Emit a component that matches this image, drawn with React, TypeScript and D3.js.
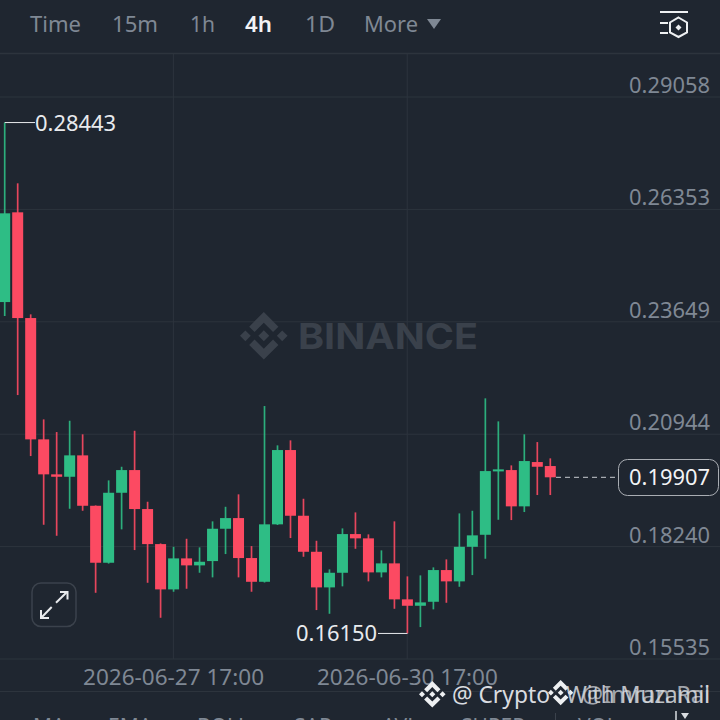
import React from "react";
import * as d3 from "d3";

const opens = [0.24124,0.26283,0.23739,0.20820,0.19978,0.19920,0.20435,0.19222,0.17851,0.19535,0.20081,0.19143,0.18300,0.17210,0.17956,0.17788,0.17891,0.18669,0.18926,0.17964,0.17393,0.18775,0.20563,0.18982,0.18115,0.17258,0.17610,0.18541,0.18438,0.17619,0.17836,0.16970,0.16816,0.16912,0.17675,0.17403,0.18235,0.18524,0.20049,0.20081,0.19208,0.20274,0.20178];
const closes = [0.26259,0.23739,0.20820,0.19978,0.19920,0.20435,0.19222,0.17851,0.19535,0.20081,0.19143,0.18300,0.17210,0.17956,0.17788,0.17875,0.18669,0.18926,0.17964,0.17393,0.18775,0.20563,0.18982,0.18115,0.17258,0.17610,0.18541,0.18438,0.17619,0.17836,0.16970,0.16816,0.16897,0.17675,0.17403,0.18235,0.18510,0.20057,0.20098,0.19208,0.20298,0.20161,0.19907];
const highs = [0.28443,0.26981,0.23828,0.21301,0.20996,0.21268,0.20941,0.19230,0.19833,0.20161,0.21027,0.19319,0.18316,0.18235,0.18428,0.18221,0.18847,0.19198,0.19497,0.18252,0.21622,0.20676,0.20796,0.19391,0.18380,0.17692,0.18678,0.19063,0.18534,0.18149,0.18847,0.17523,0.17547,0.17740,0.17932,0.19039,0.19102,0.21807,0.21253,0.20194,0.20941,0.20755,0.20363];
const lows = [0.23788,0.21886,0.20418,0.18765,0.18500,0.19150,0.19102,0.17128,0.17830,0.18654,0.18156,0.17369,0.16527,0.17153,0.17225,0.17610,0.17499,0.18060,0.17499,0.17153,0.17375,0.18760,0.18445,0.17995,0.16712,0.16623,0.17283,0.18187,0.17403,0.17499,0.16743,0.16150,0.16303,0.16729,0.16888,0.17273,0.17554,0.17947,0.18885,0.18878,0.19071,0.19480,0.19480];

const priceTicks = ["0.29058","0.26353","0.23649","0.20944","0.18240","0.15535"];
const timeTicks = [{ index: 13, label: "2026-06-27 17:00" }, { index: 31, label: "2026-06-30 17:00" }];
const periods = [
  { label: "Time", x: 30, w: 51 },
  { label: "15m", x: 112, w: 46 },
  { label: "1h", x: 190, w: 25 },
  { label: "4h", x: 245, w: 27 },
  { label: "1D", x: 305, w: 30 },
  { label: "More", x: 364, w: 54 },
];
const indicators = [
  { label: "MA", x: 33 }, { label: "EMA", x: 108 }, { label: "BOLL", x: 197 }, { label: "SAR", x: 294 },
  { label: "AVL", x: 382 }, { label: "SUPER", x: 461 }, { label: "VOL", x: 578 },
];

const LOGO = "M38.73 53.2l24.59-24.58 24.6 24.6 14.3-14.31L63.32 0 24.42 38.9l14.31 14.3zM0 63.31l14.3-14.31 14.31 14.31-14.31 14.3zM38.73 73.41l24.59 24.59 24.6-24.6 14.31 14.29-38.9 38.91-38.91-38.88v-.03l14.31-14.28zM98 63.31l14.3-14.31 14.31 14.3-14.31 14.32zM77.83 63.3L63.32 48.78 52.59 59.51l-1.24 1.23-2.54 2.54 14.51 14.5 14.51-14.47z";

const BG = "#1f2630", GRID = "#2d343d", MUTED = "#7f8894", GREEN = "#2ebd85", RED = "#fc4a62";
const FONT = "'Noto Sans', sans-serif";

export default function App() {
  const y = d3.scaleLinear().domain([0.15535, 0.29058]).range([659, 97]);
  const x = d3.scaleLinear().domain([0, 42]).range([4.7, 550.3]);
  const bodyW = 11;
  const last = closes[closes.length - 1];
  const hiIdx = d3.maxIndex(highs);
  const loIdx = d3.minIndex(lows);
  return (
    <svg width={720} height={720} viewBox="0 0 720 720" style={{ position: "fixed", left: 0, top: 0, display: "block" }} fontFamily={FONT}>
      <rect width={720} height={720} fill={BG} />
      {/* grid */}
      <line x1={0} x2={720} y1={53.5} y2={53.5} stroke={GRID} strokeWidth={1.5} />
      <line x1={0} x2={720} y1={691.5} y2={691.5} stroke={GRID} strokeWidth={1} />
      {priceTicks.map((t) => (
        <line key={t} x1={0} x2={720} y1={y(+t)} y2={y(+t)} stroke={GRID} strokeWidth={1} />
      ))}
      {timeTicks.map((t) => (
        <line key={t.label} x1={x(t.index) - 0.2} x2={x(t.index) - 0.2} y1={54} y2={659} stroke={GRID} strokeWidth={1} />
      ))}
      {/* watermark */}
      <path d={LOGO} transform="translate(240,312) scale(0.376)" fill="#3a414b" />
      <text x={298} y={349} fontFamily="Inter, sans-serif" fontWeight={700} fontSize={36} fill="#3a414b" textLength={180} lengthAdjust="spacingAndGlyphs">BINANCE</text>
      {/* candles */}
      {opens.map((o, i) => {
        const c = closes[i];
        const col = c >= o ? GREEN : RED;
        const top = y(Math.max(o, c));
        const h = Math.max(1.5, Math.abs(y(o) - y(c)));
        return (
          <g key={i}>
            <line x1={x(i)} x2={x(i)} y1={y(highs[i])} y2={y(lows[i])} stroke={col} strokeWidth={1.7} opacity={0.9} />
            <rect x={x(i) - bodyW / 2} y={top} width={bodyW} height={h} fill={col} />
          </g>
        );
      })}
      {/* price axis */}
      {priceTicks.map((t) => (
        <text key={t} x={710} y={y(+t) - 4} textAnchor="end" fontSize={21} fill={MUTED} textLength={81} lengthAdjust="spacingAndGlyphs">{t}</text>
      ))}
      {/* time axis */}
      {timeTicks.map((t) => (
        <text key={t.label} x={x(t.index)} y={685} textAnchor="middle" fontSize={21} fill={MUTED} textLength={181} lengthAdjust="spacingAndGlyphs">{t.label}</text>
      ))}
      {/* extremes */}
      <line x1={x(hiIdx)} x2={35} y1={y(highs[hiIdx])} y2={y(highs[hiIdx])} stroke="#e8eaed" strokeWidth={1} />
      <text x={35} y={y(highs[hiIdx]) + 8} fontSize={21} fill="#e8eaed" textLength={81} lengthAdjust="spacingAndGlyphs">{highs[hiIdx].toFixed(5)}</text>
      <line x1={378} x2={x(loIdx)} y1={y(lows[loIdx])} y2={y(lows[loIdx])} stroke="#e8eaed" strokeWidth={1} />
      <text x={296} y={y(lows[loIdx]) + 8} fontSize={21} fill="#e8eaed" textLength={81} lengthAdjust="spacingAndGlyphs">{lows[loIdx].toFixed(5)}</text>
      {/* last price */}
      <line x1={556} x2={617} y1={y(last)} y2={y(last)} stroke="#c9ccd1" strokeWidth={1} strokeDasharray="5 4" />
      <rect x={618.5} y={459.5} width={100} height={36} rx={9} fill={BG} stroke="#a9adb3" strokeWidth={1} />
      <text x={710} y={y(last) + 8} textAnchor="end" fontSize={21} fill="#f2f3f5" textLength={81} lengthAdjust="spacingAndGlyphs">{last.toFixed(5)}</text>
      {/* top bar */}
      {periods.map((p) => (
        <text key={p.label} x={p.x} y={32} fontSize={22} fontWeight={p.label === "4h" ? 600 : 400} fill={p.label === "4h" ? "#f2f3f5" : MUTED} textLength={p.w} lengthAdjust="spacingAndGlyphs">{p.label}</text>
      ))}
      <path d="M427 19 H441 L434 29 Z" fill={MUTED} />
      <g stroke="#eef0f2" fill="none" strokeWidth={2}>
        <line x1={660} x2={688} y1={12} y2={12} />
        <line x1={660} x2={668} y1={23} y2={23} />
        <line x1={660} x2={668} y1={33} y2={33} />
        <path d="M678.5 17.5 L687 22.5 V32.5 L678.5 37 L670 32.5 V22.5 Z" />
      </g>
      <path d="M678.5 24.5 L681.5 27.5 L678.5 30.5 L675.5 27.5 Z" fill="#eef0f2" />
      {/* fullscreen button */}
      <rect x={32} y={583} width={44} height={43.5} rx={9} fill={BG} stroke="#3b424c" strokeWidth={1.5} />
      <g stroke="#e8eaed" strokeWidth={2} fill="none">
        <path d="M56 602.7 L67 592" />
        <path d="M60 592 H67.5 V599.5" />
        <path d="M51.7 607 L41 618" />
        <path d="M41 610 V618 H49" />
      </g>
      {/* overlay credits */}
      <path d={LOGO} transform="translate(419,681) scale(0.21)" fill="#eef0f2" />
      <text x={452} y={703} fontSize={23} fill="#d9dce0" textLength={98} lengthAdjust="spacingAndGlyphs">@ Crypto</text>
      <path d={LOGO} transform="translate(548,680) scale(0.2)" fill="#eef0f2" />
      <text x={566} y={703} fontSize={23} fill="#d9dce0" opacity={0.85} textLength={144} lengthAdjust="spacingAndGlyphs">With Muzamil</text>
      <text x={582} y={703} fontSize={23} fill="#d9dce0" opacity={0.7} textLength={128} lengthAdjust="spacingAndGlyphs">@Imran Rai</text>
      {/* bottom tabs */}
      {indicators.map((t) => (
        <text key={t.label} x={t.x} y={734} fontSize={21} fill={MUTED}>{t.label}</text>
      ))}
      <line x1={555.5} x2={555.5} y1={713} y2={720} stroke="#3b424c" strokeWidth={1} />
      <line x1={676} x2={676} y1={711} y2={720} stroke="#d9dce0" strokeWidth={1.5} />
      <path d="M681 713 H689 L685 719 Z" fill="#d9dce0" />
    </svg>
  );
}
